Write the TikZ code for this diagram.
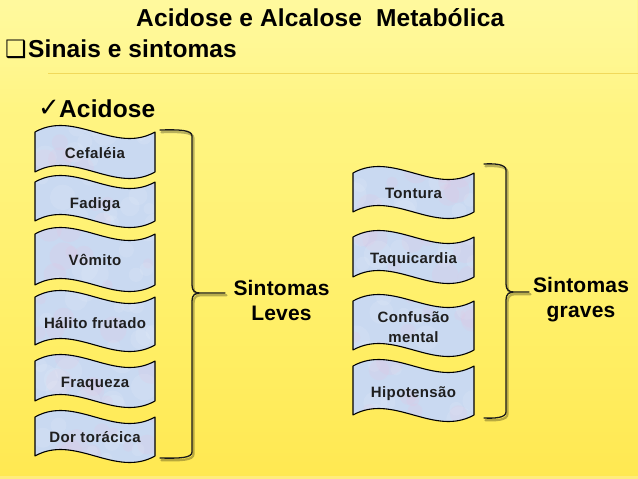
\documentclass[tikz,border=0pt]{standalone}
\usepackage{fontspec}
\setmainfont{Liberation Sans}
\newfontfamily\labfont[LetterSpace=2.5]{Liberation Sans Bold}
\newfontfamily\titlefont[LetterSpace=0.7]{Liberation Sans Bold}
\newfontfamily\headfont[LetterSpace=0.5]{Liberation Sans Bold}
\newfontfamily\bigfont[LetterSpace=1]{Liberation Sans Bold}
\newfontfamily\symfont{DejaVu Sans}
\usetikzlibrary{fadings,calc}
\definecolor{waveblue}{HTML}{C9D9F1}
\definecolor{wavepink}{HTML}{E2C6E2}
\definecolor{pale}{HTML}{FFFA9E}
\definecolor{bga}{HTML}{FFDC30}
\definecolor{bgb}{HTML}{FFE64A}
\definecolor{bgc}{HTML}{FFEF66}
\definecolor{bgd}{HTML}{FFF47F}
\definecolor{bge}{HTML}{FFF78F}
\definecolor{bgf}{HTML}{FFFA9E}
\pgfdeclareverticalshading{bggrad}{100bp}{
  color(0bp)=(bga); color(20bp)=(bgb); color(40bp)=(bgc); color(60bp)=(bgd); color(80bp)=(bge); color(100bp)=(bgf)}
\tikzset{
  wavefill/.style={draw=black,line width=1.1pt,line join=round,fill=waveblue},
  wavetext/.style={font=\labfont\fontsize{15}{20}\selectfont,text=black!88,inner sep=0pt,align=center,anchor=base},
  bigtext/.style={font=\bigfont\fontsize{21}{25}\selectfont,text=black,inner sep=0pt,align=center},
  brace/.style={draw=black!90,line width=1.3pt,line cap=round,line join=round},
  braceshadow/.style={draw=black,opacity=.28,line width=2.2pt,line cap=round,line join=round},
  stripe/.style={draw=white,opacity=.25,line width=3pt}
}
\pgfmathsetseed{4242}
% #1 name #2 x0 #3 width #4 top y #5 bottom y #6 label base y (last line) #7 text
\newcommand{\wavebox}[7]{%
  \def\wavepath{(#2,#4) .. controls ($(#2,#4)+(#3/3,-22.5)$) and ($(#2,#4)+(2*#3/3,22.5)$) .. ($(#2,#4)+(#3,0)$)
    -- ($(#2,#5)+(#3,0)$) .. controls ($(#2,#5)+(2*#3/3,22.5)$) and ($(#2,#5)+(#3/3,-22.5)$) .. (#2,#5) -- cycle}%
  \fill[wavefill,draw=none] \wavepath;
  \begin{scope}
    \clip \wavepath;
    \foreach \k in {1,...,16} {
      \pgfmathsetmacro{\px}{#2+#3*rnd}
      \pgfmathsetmacro{\py}{#4-6+(#5-#4+12)*rnd}
      \pgfmathsetmacro{\pr}{5+9*rnd}
      \pgfmathsetmacro{\pw}{rnd}
      \ifdim\pw pt<0.4pt
        \fill[wavepink,opacity=.22] (\px,\py) circle (\pr);
      \else
        \fill[white,opacity=.10] (\px,\py) circle (\pr);
      \fi
    }
  \end{scope}
  \draw[wavefill,fill=none] \wavepath;
  \node[wavetext] (#1) at ($(#2,#6)+(#3/2,0)$) {#7};
}
\newcommand{\bracepath}[6]{(#1,#4) .. controls (#2-12,#4-0.5) and (#2,#4) .. (#2,#4+6)
  -- (#2,#5-8) .. controls (#2,#5-2) and (#2+3,#5) .. (#2+8,#5) -- (#3,#5)
  (#2+8,#5) .. controls (#2+3,#5) and (#2,#5+2) .. (#2,#5+8)
  -- (#2,#6-6) .. controls (#2,#6) and (#2-12,#6+0.5) .. (#1,#6)}
\begin{document}
\begin{tikzpicture}[x=1pt,y=-1pt]
\useasboundingbox (0,0) rectangle (638,479);
\begin{scope}
\clip (0,0) rectangle (638,479);
\shade[shading=bggrad] (0,0) rectangle (638,479);
\foreach \a in {-32,-31.3,...,32} {
  \draw[stripe] (319,-640) ++ ({270-\a}:640) -- ++({270-\a}:560);
}
\fill[pale,path fading=south] (0,0) rectangle (638,110);
\fill[white,opacity=.25] (0,476) rectangle (638,479);
\draw[draw=orange!50!yellow!85!black,opacity=.35,line width=.6pt] (48,73) -- (638,73);
\end{scope}

\node[font=\titlefont\fontsize{24.5}{28}\selectfont,anchor=base west,inner sep=0pt] (title) at (136,27) {Acidose e Alcalose\ \ Metabólica};
\node[font=\symfont\fontsize{24}{28}\selectfont,anchor=base west,inner sep=0pt] (mark1) at (5,57) {❑};
\node[font=\headfont\fontsize{24.5}{28}\selectfont,anchor=base west,inner sep=0pt] (head) at (28,57) {Sinais e sintomas};
\node[font=\symfont\fontsize{26}{30}\selectfont,anchor=base west,inner sep=0pt] (mark2) at (38,116) {✓};
\node[font=\headfont\fontsize{24.5}{28}\selectfont,anchor=base west,inner sep=0pt] (acid) at (59,117) {Acidose};

\wavebox{a1}{35}{120}{132}{172}{158}{Cefaléia}
\wavebox{a2}{35}{120}{182}{221}{208}{Fadiga}
\wavebox{a3}{35}{120}{234}{285}{265}{Vômito}
\wavebox{a4}{35}{120}{297}{345}{328}{Hálito frutado}
\wavebox{a5}{35}{120}{361}{401}{387}{Fraqueza}
\wavebox{a6}{35}{120}{417}{456}{442}{Dor torácica}

\wavebox{b1}{353}{121}{173}{212}{198}{Tontura}
\wavebox{b2}{353}{121}{237}{277}{263}{Taquicardia}
\wavebox{b3}{353}{121}{301}{350}{342}{Confusão\\mental}
\wavebox{b4}{353}{121}{366}{415}{397}{Hipotensão}

\draw[braceshadow,xshift=1.5pt,yshift=-2.2pt] \bracepath{160}{192}{225}{130}{293}{458};
\draw[brace] \bracepath{160}{192}{225}{130}{293}{458};
\draw[braceshadow,xshift=1.5pt,yshift=-2.2pt] \bracepath{484}{506}{529}{164}{292}{418};
\draw[brace] \bracepath{484}{506}{529}{164}{292}{418};

\node[bigtext] (lev) at (281.5,300) {Sintomas\\Leves};
\node[bigtext] (gra) at (581,300) {Sintomas\\graves};
\end{tikzpicture}
\end{document}
